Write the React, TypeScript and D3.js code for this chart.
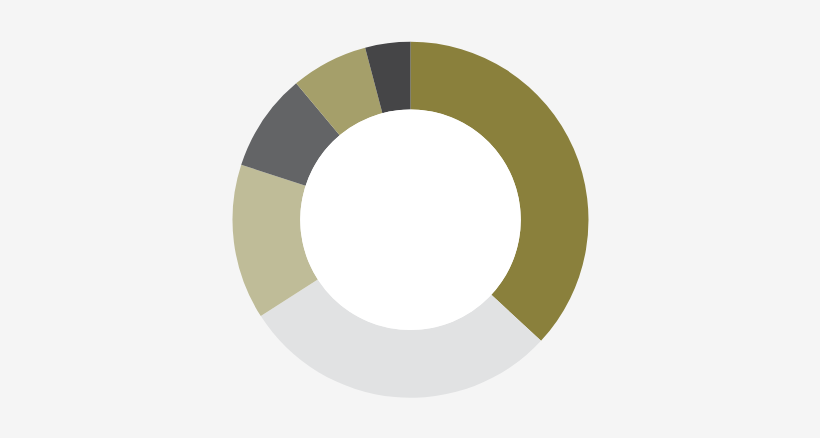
import React from "react";
import * as d3 from "d3";

const categories = ["A", "B", "C", "D", "E", "F"];
const values = [36.9, 29.0, 14.1, 8.9, 7.0, 4.1];
const colors = ["#8a803c", "#e1e2e3", "#bfbc98", "#636466", "#a59f6a", "#454547"];

const W = 820;
const H = 438;
const CX = 410.5;
const CY = 219.8;
const R_OUT = 178;
const R_IN = 110.3;

export default function App() {
  const pie = d3
    .pie<number>()
    .sort(null)
    .value((d) => d);
  const arcs = pie(values);
  const arc = d3.arc<d3.PieArcDatum<number>>().innerRadius(R_IN).outerRadius(R_OUT);

  return (
    <svg
      width={W}
      height={H}
      style={{ position: "fixed", left: 0, top: 0, display: "block" }}
    >
      <rect x={0} y={0} width={W} height={H} fill="#f5f5f5" />
      <g transform={`translate(${CX},${CY})`}>
        {arcs.map((a, i) => (
          <path key={categories[i]} d={arc(a) || ""} fill={colors[i]} />
        ))}
        <circle r={R_IN} fill="#ffffff" />
      </g>
    </svg>
  );
}
